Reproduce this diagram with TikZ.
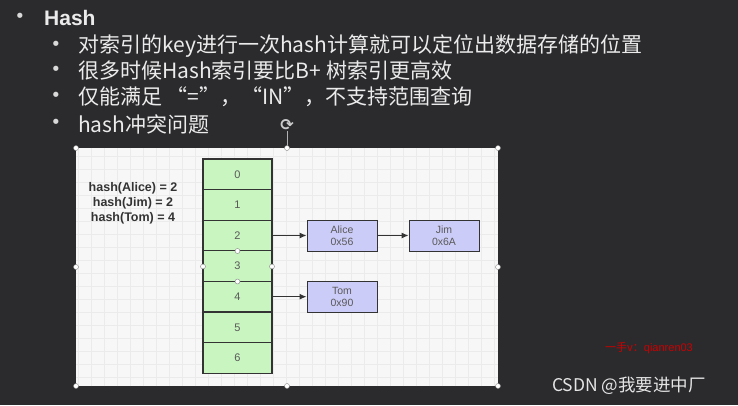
\documentclass[tikz,border=0pt]{standalone}
\usepackage{fontspec}
\setmainfont{Noto Sans CJK SC}
\newfontfamily\lat{Liberation Sans}
\newfontfamily\dvs{DejaVu Sans}
\usetikzlibrary{arrows.meta}
\definecolor{bg}{HTML}{2B2B2E}
\definecolor{cellg}{HTML}{C8F5C0}
\definecolor{cellb}{HTML}{CCCCF8}
\begin{document}
\begin{tikzpicture}[x=1pt,y=-1pt,
  cell/.style={draw=black!80,line width=1.1pt,fill=cellg,minimum width=69pt,minimum height=30.6pt,inner sep=0pt,font=\lat\fontsize{11}{11}\selectfont,text=black!65},
  rec/.style={draw=black!80,line width=1pt,fill=cellb,minimum width=70pt,minimum height=31pt,inner sep=0pt,align=center,font=\lat\fontsize{10.5}{12}\selectfont,text=black!65},
  arr/.style={-{Latex[length=7pt,width=6pt]},line width=1pt,black!80},
  handle/.style={circle,draw=black!50,fill=white,inner sep=0pt,minimum size=5pt},
  bul/.style={anchor=west,text=white!92!black,font=\fontsize{21}{21}\selectfont,inner sep=0pt},
  dot/.style={text=white!85!black,font=\dvs\fontsize{18}{18}\selectfont,inner sep=0pt}]
\fill[bg] (0,0) rectangle (738,405);
\node[dot] (d0) at (20,18) {•};
\node[bul,font=\lat\bfseries\fontsize{21}{21}\selectfont] (t0) at (44,18) {Hash};
\node[dot] (d1) at (56,46) {•};
\node[bul] (t1) at (78,46) {对索引的key进行一次hash计算就可以定位出数据存储的位置};
\node[dot] (d2) at (56,71) {•};
\node[bul] (t2) at (78,71) {很多时候Hash索引要比B+ 树索引更高效};
\node[dot] (d3) at (56,97) {•};
\node[bul] (t3) at (78,97) {仅能满足 “=”，“IN”，不支持范围查询};
\node[dot] (d4) at (56,124) {•};
\node[bul] (t4) at (78,124) {hash冲突问题};
% canvas
\fill[white!97!black] (76,148) rectangle (498,386);
\begin{scope}
\clip (76,148) rectangle (498,386);
\draw[black!8,line width=0.4pt,step=13pt] (76,148) grid (498,386);
\end{scope}
\coordinate (rot) at (287,125);
\draw[white!70!black] (rot) -- (287,148);
\node[text=white!80!black,font=\dvs\bfseries\fontsize{16}{16}\selectfont,fill=bg,inner sep=0.5pt] at (rot) {⟳};
\foreach \n/\y in {0/174.3,1/204.9,2/235.5,3/266.1,4/296.7,5/327.3,6/357.9}
  \node[cell] (c\n) at (237.5,\y) {\n};
\node[rec] (alice) at (342,235.5) {Alice\\0x56};
\node[rec] (jim) at (444,235.5) {Jim\\0x6A};
\node[rec] (tom) at (342,296.7) {Tom\\0x90};
\draw[arr] (c2.east) -- (alice.west);
\draw[arr] (alice.east) -- (jim.west);
\draw[arr] (c4.east) -- (tom.west);
\node[align=center,font=\lat\bfseries\fontsize{12.5}{15}\selectfont,text=black!80] (hs) at (133,203) {hash(Alice) = 2\\hash(Jim) = 2\\hash(Tom) = 4};
\foreach \p in {(76,148),(287,148),(498,148),(76,267),(498,267),(76,386),(287,386),(498,386),(237.5,251),(237.5,281.5),(203,266.5),(272,266.5)}
  \node[handle] at \p {};
\node[anchor=west,text=red!80!black,font=\fontsize{11}{11}\selectfont,inner sep=0pt] (wm) at (605,348) {一手v：\lat qianren03};
\node[anchor=west,text=white!90!black,font=\fontsize{17.5}{17.5}\selectfont,inner sep=0pt] (csdn) at (552,386) {CSDN @我要进中厂};
\end{tikzpicture}
\end{document}
